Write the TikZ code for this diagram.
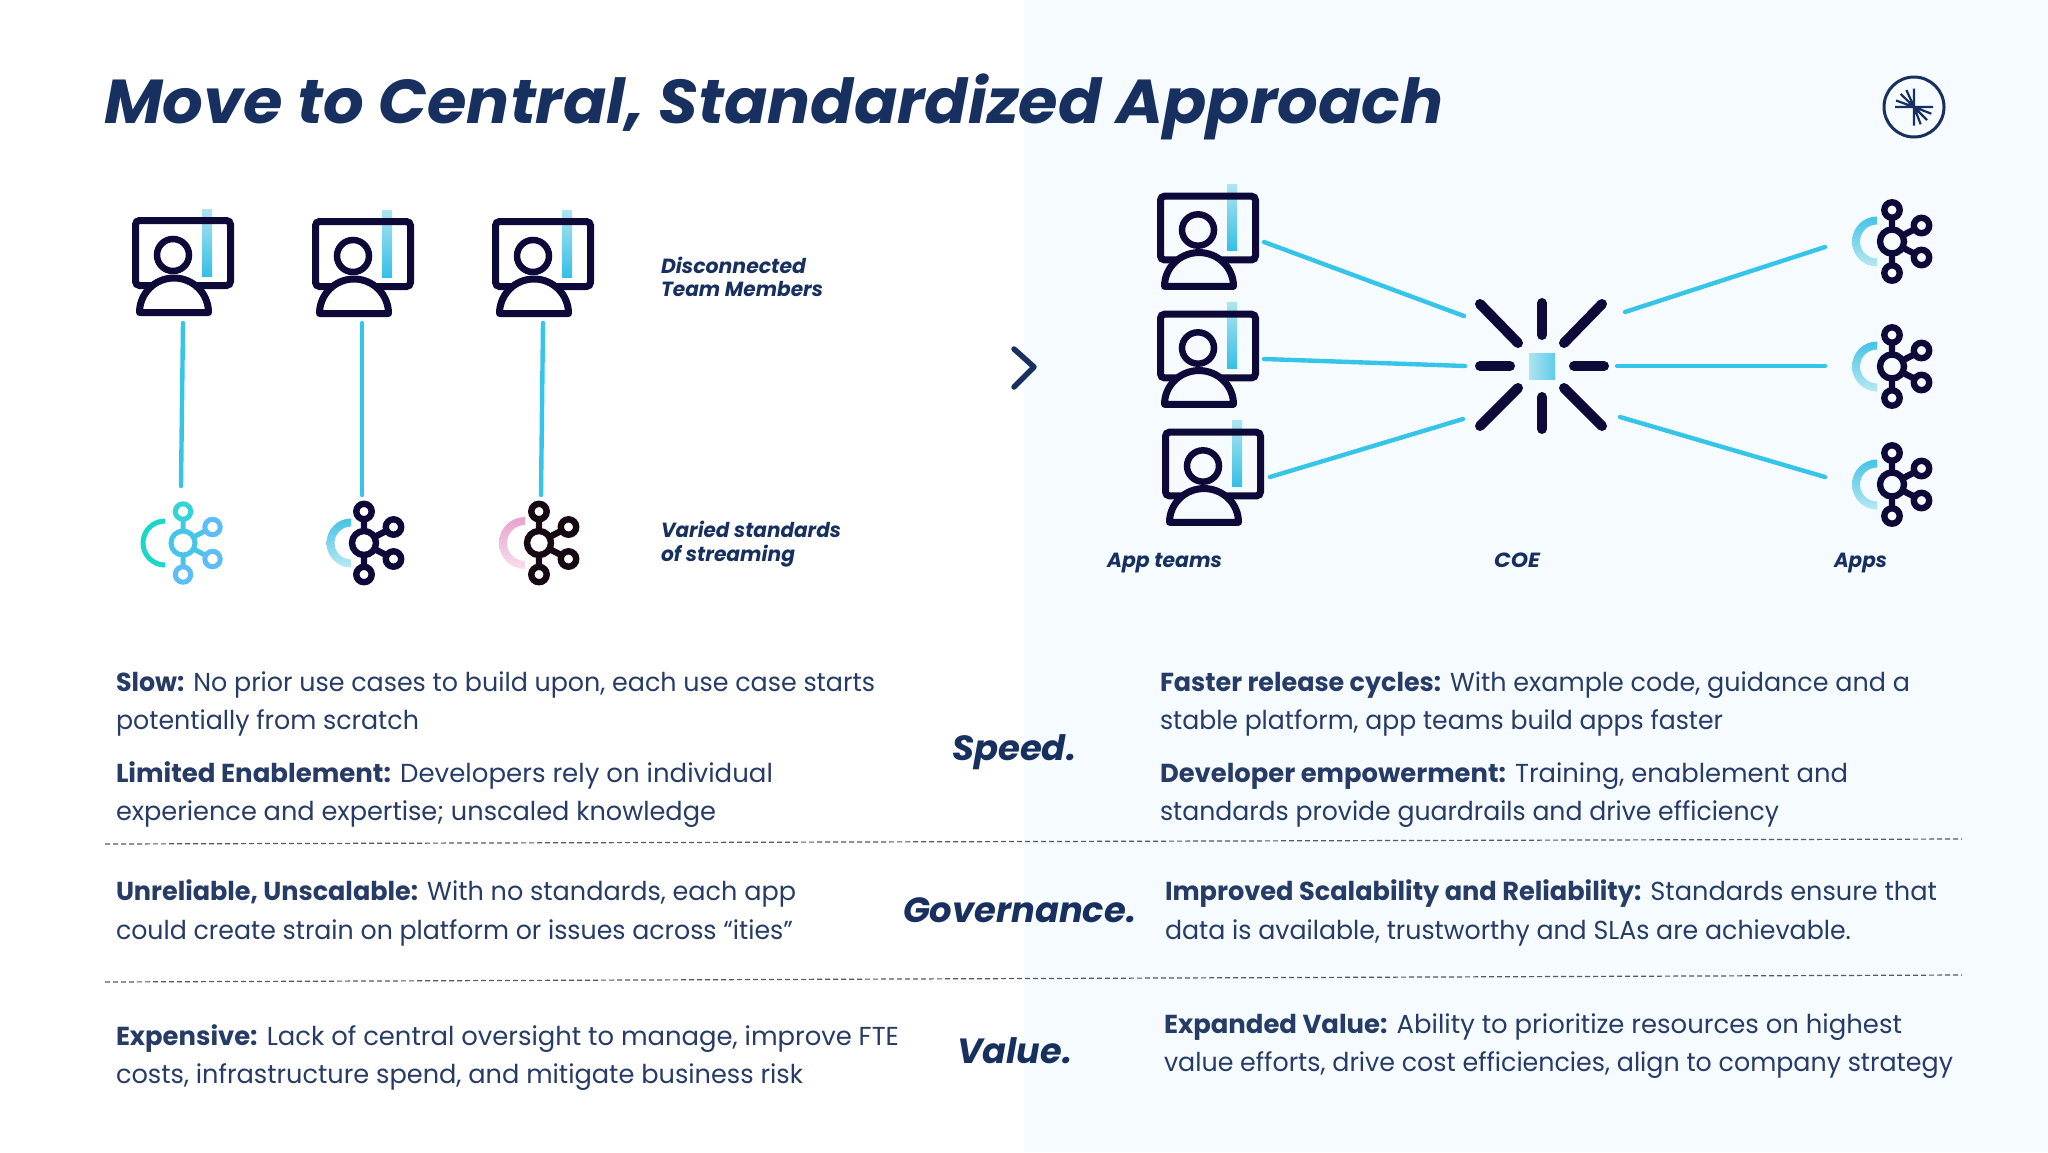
\documentclass[tikz,border=0pt]{standalone}
\usepackage{fontspec}
\usepackage{graphicx}
\setmainfont{Poppins}
\definecolor{navy}{HTML}{0D0A3A}
\definecolor{ink}{HTML}{17305F}
\definecolor{bodyc}{HTML}{263B66}
\definecolor{cyanline}{HTML}{36C5E8}
\definecolor{rightbg}{HTML}{F5FBFF}
\definecolor{barlight}{HTML}{ADE4F0}
\definecolor{bardark}{HTML}{35BFE6}
\definecolor{rulec}{HTML}{55596A}
\definecolor{hubA}{HTML}{45C6E8}
\definecolor{topA}{HTML}{34D4D6}
\definecolor{nodeA}{HTML}{5CBDF7}
\definecolor{tealA}{HTML}{1BD8C6}
\definecolor{soot}{HTML}{150A14}
\definecolor{pinkT}{HTML}{E8A2CE}
\definecolor{pinkB}{HTML}{F6DFEE}
\definecolor{arcT}{HTML}{45C3E6}
\definecolor{arcB}{HTML}{B8E8F3}
\newsavebox{\fitbox}
\newcommand{\fitline}[2]{\sbox{\fitbox}{#2}\pgfmathsetmacro{\fitr}{#1/\wd\fitbox}\scalebox{\fitr}[1]{\usebox{\fitbox}}}
\newcommand{\bd}[1]{\textbf{#1}}
\tikzset{
  txt/.style={anchor=base west,inner sep=0pt,outer sep=0pt,font=\fontsize{26}{30}\selectfont,text=bodyc},
  tag/.style={anchor=base west,inner sep=0pt,outer sep=0pt,font=\fontsize{20.5}{24}\selectfont\bfseries\itshape,text=ink},
  pillar/.style={anchor=base west,inner sep=0pt,outer sep=0pt,font=\fontsize{35}{40}\selectfont\bfseries\itshape,text=ink},
  wire/.style={draw=cyanline,line width=4.4pt,line cap=round},
  rulel/.style={draw=rulec,line width=1.2pt,dash pattern=on 5pt off 3pt},
  ray/.style={draw=navy,line width=10pt,line cap=round}
}
% x, y, background, vertical scale
\newcommand{\personicon}[4]{%
\begin{scope}[shift={(#1,-#2)},yscale=#4]
  \shade[top color=barlight,bottom color=bardark] (29,46) rectangle (39,-21);
  \draw[navy,line width=7pt,rounded corners=4pt] (-37.5,34.5) rectangle (57.5,-30.5);
  \draw[navy,line width=6.5pt] (0,0) circle[radius=16pt];
  \draw[navy,fill=#3,line width=7pt,line join=round] (-33.5,-57.5) arc[start angle=180,end angle=0,radius=34.5pt] -- cycle;
\end{scope}}
% x, y, stroke, hub radius, arc offset, arc outer r, arc thickness, arc top colour, arc bottom colour
\newcommand{\netglyph}[9]{%
\begin{scope}[shift={(#1,-#2)}]
  \shade[top color=#8,bottom color=#9] (-#5,#6) arc[start angle=90,end angle=270,radius=#6pt] -- (-#5,-#6+#7) arc[start angle=270,end angle=90,radius=#6pt-#7pt] -- cycle;
  \draw[line width=#3pt,draw=\hubc] (0,#4) -- (0,24) (0,-#4) -- (0,-24) (10.5,6) -- (23,12.5) (10.5,-6) -- (23,-12.5);
  \draw[line width=#3pt,draw=\nodeTop] (0,31.5) circle[radius=7.7pt];
  \draw[line width=#3pt,draw=\nodeB] (0,-31.5) circle[radius=7.7pt] (29.5,16) circle[radius=7.7pt] (29.5,-16) circle[radius=7.7pt];
  \draw[line width=#3pt,draw=\hubc] (0,0) circle[radius=#4pt];
\end{scope}}
\newcommand{\setnet}[3]{\def\hubc{#1}\def\nodeTop{#2}\def\nodeB{#3}}
\begin{document}
\begin{tikzpicture}[x=1pt,y=1pt]
\useasboundingbox (0,0) rectangle (2048,-1152);
\fill[white] (0,0) rectangle (1024,-1152);
\fill[rightbg] (1024,0) rectangle (2048,-1152);
% title
\node[anchor=base west,inner sep=0pt,text=ink,font=\fontsize{62}{70}\selectfont\bfseries\itshape] (title) at (104,-123) {\fitline{1339}{Move to Central, Standardized Approach}};
% logo
\node[draw=ink,circle,line width=3pt,minimum size=60pt,inner sep=0pt] (logo) at (1914,-107) {};
\draw[ink,line width=2.2pt] (logo.center) ++(-19,0) -- ++(38,0) (logo.center) ++(0,18.5) -- ++(0,-37)
 (logo.center) -- ++(-18,6.5) (logo.center) -- ++(-13.3,13) (logo.center) -- ++(-7.6,17)
 (logo.center) -- ++(17.3,-6.7) (logo.center) -- ++(13,-13) (logo.center) -- ++(6.7,-17.3);
% left persons
\personicon{173}{255}{white}{1}
\personicon{353}{256}{white}{1}
\personicon{533}{256}{white}{1}
% left connectors
\coordinate (la1) at (183,-323); \coordinate (lb1) at (181,-486);
\coordinate (la2) at (362,-323); \coordinate (lb2) at (362,-495);
\coordinate (la3) at (543,-323); \coordinate (lb3) at (541,-495);
\draw[wire] (la1) -- (lb1);
\draw[wire] (la2) -- (lb2);
\draw[wire] (la3) -- (lb3);
% left glyphs
\setnet{hubA}{topA}{nodeA}
\netglyph{183}{543}{5}{12}{18}{24.5}{5}{tealA}{tealA}
\setnet{navy}{navy}{navy}
\netglyph{364}{543}{6.4}{12}{13}{24.5}{8}{arcT}{arcB}
\setnet{soot}{soot}{soot}
\netglyph{539}{543}{6.4}{12}{14}{26}{8}{pinkT}{pinkB}
% right persons
\personicon{1198}{230}{rightbg}{0.98}
\personicon{1198}{348}{rightbg}{0.98}
\personicon{1203}{466}{rightbg}{0.98}
% right glyphs
\setnet{navy}{navy}{navy}
\netglyph{1892}{241.5}{6.4}{12}{15}{25}{8}{arcT}{arcB}
\netglyph{1892}{366.5}{6.4}{12}{15}{25}{8}{arcT}{arcB}
\netglyph{1892}{484.5}{6.4}{12}{15}{25}{8}{arcT}{arcB}
% COE
\coordinate (coe) at (1542,-366);
\shade[left color=barlight,right color=bardark!80!white] (1529,-353) rectangle (1555,-379);
\draw[ray] (1542,-303) -- (1542,-335);
\draw[ray] (1542,-397) -- (1542,-429);
\draw[ray] (1480,-366) -- (1510,-366);
\draw[ray] (1574,-366) -- (1604,-366);
\draw[ray] (1480,-304) -- (1518,-343);
\draw[ray] (1602,-304) -- (1564,-343);
\draw[ray] (1480,-426) -- (1518,-388);
\draw[ray] (1602,-426) -- (1564,-388);
% right connectors
\coordinate (ra1) at (1264,-242); \coordinate (rb1) at (1464,-316);
\coordinate (ra2) at (1264,-359); \coordinate (rb2) at (1465,-366);
\coordinate (ra3) at (1270,-477); \coordinate (rb3) at (1463,-419);
\coordinate (sa1) at (1625,-312); \coordinate (sb1) at (1825,-247);
\coordinate (sa2) at (1617,-366); \coordinate (sb2) at (1825,-366);
\coordinate (sa3) at (1620,-417); \coordinate (sb3) at (1825,-477);
\foreach \p/\q in {ra1/rb1,ra2/rb2,ra3/rb3,sa1/sb1,sa2/sb2,sa3/sb3} \draw[wire] (\p) -- (\q);
% chevron
\coordinate (ch1) at (1014,-349); \coordinate (ch2) at (1034,-367); \coordinate (ch3) at (1014,-387);
\draw[ink,line width=5.5pt,line cap=round,line join=round] (ch1) -- (ch2) -- (ch3);
% tags
\node[tag] (t1) at (661,-273) {\fitline{145}{Disconnected}};
\node[tag] (t2) at (661,-296.5) {\fitline{162}{Team Members}};
\node[tag] (t3) at (661,-537) {\fitline{180}{Varied standards}};
\node[tag] (t4) at (661,-561) {\fitline{134}{of streaming}};
\node[tag] (t5) at (1107,-567) {\fitline{115}{App teams}};
\node[tag] (t6) at (1494,-567) {\fitline{46}{COE}};
\node[tag] (t7) at (1834,-567) {\fitline{53}{Apps}};
% pillars
\node[pillar] (p1) at (952,-760) {\fitline{124}{Speed.}};
\node[pillar] (p2) at (903,-922) {\fitline{233}{Governance.}};
\node[pillar] (p3) at (957,-1063) {\fitline{115}{Value.}};
% rules
\coordinate (r1a) at (105,-844); \coordinate (r1b) at (1962,-839);
\coordinate (r2a) at (105,-982); \coordinate (r2b) at (1962,-975);
\draw[rulel] (r1a) -- (r1b);
\draw[rulel] (r2a) -- (r2b);
% left body
\node[txt] (a1) at (116,-691) {\fitline{759}{\bd{Slow:} No prior use cases to build upon, each use case starts}};
\node[txt] (a2) at (116,-729) {\fitline{303}{potentially from scratch}};
\node[txt] (a3) at (116,-782) {\fitline{657}{\bd{Limited Enablement:} Developers rely on individual}};
\node[txt] (a4) at (116,-820) {\fitline{600}{experience and expertise; unscaled knowledge}};
\node[txt] (a5) at (116,-900) {\fitline{680}{\bd{Unreliable, Unscalable:} With no standards, each app}};
\node[txt] (a6) at (116,-939) {\fitline{677}{could create strain on platform or issues across “ities”}};
\node[txt] (a7) at (116,-1045) {\fitline{783}{\bd{Expensive:} Lack of central oversight to manage, improve FTE}};
\node[txt] (a8) at (116,-1083) {\fitline{687}{costs, infrastructure spend, and mitigate business risk}};
% right body
\node[txt] (b1) at (1160,-691) {\fitline{750}{\bd{Faster release cycles:} With example code, guidance and a}};
\node[txt] (b2) at (1160,-729) {\fitline{563}{stable platform, app teams build apps faster}};
\node[txt] (b3) at (1160,-782) {\fitline{688}{\bd{Developer empowerment:} Training, enablement and}};
\node[txt] (b4) at (1160,-820) {\fitline{619}{standards provide guardrails and drive efficiency}};
\node[txt] (b5) at (1165,-900) {\fitline{772}{\bd{Improved Scalability and Reliability:} Standards ensure that}};
\node[txt] (b6) at (1165,-939) {\fitline{686}{data is available, trustworthy and SLAs are achievable.}};
\node[txt] (b7) at (1164,-1033) {\fitline{738}{\bd{Expanded Value:} Ability to prioritize resources on highest}};
\node[txt] (b8) at (1164,-1071) {\fitline{789}{value efforts, drive cost efficiencies, align to company strategy}};
\end{tikzpicture}
\end{document}
